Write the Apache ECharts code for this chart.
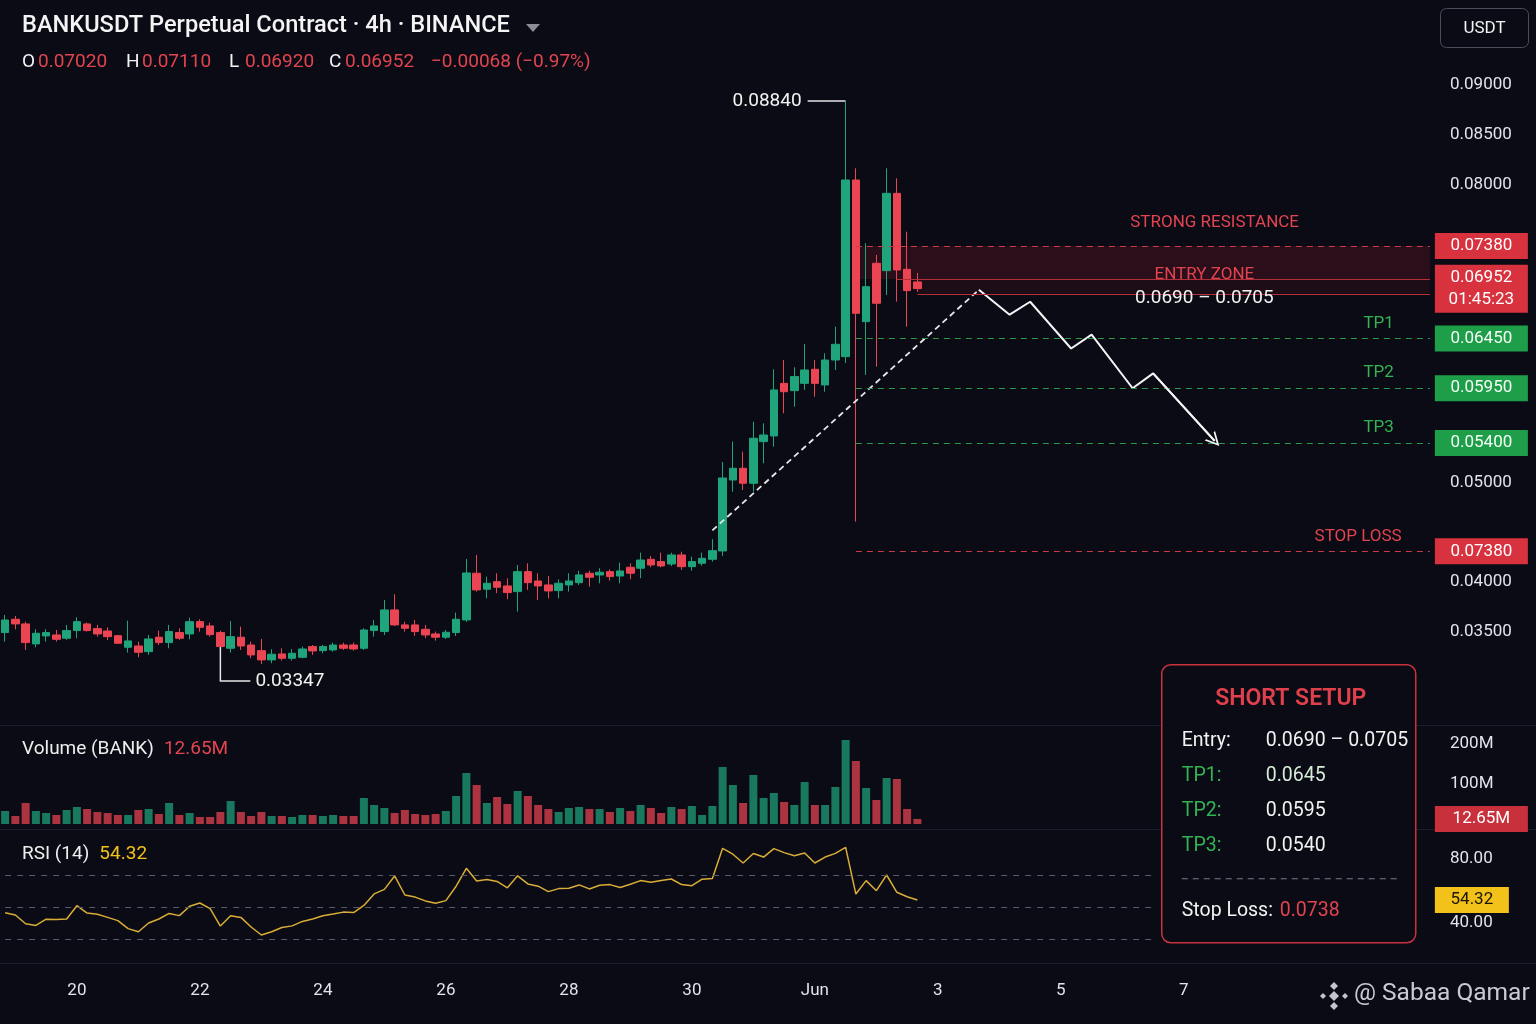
<!DOCTYPE html>
<html>
<head>
<meta charset="utf-8">
<title>BANKUSDT 4h</title>
<script src="https://cdn.jsdelivr.net/npm/echarts@6.0.0/dist/echarts.min.js"></script>
<style>
  html, body { margin: 0; padding: 0; background: #0a0b14; }
  #chart { width: 1536px; height: 1024px; }
</style>
</head>
<body>
<div id="chart"></div>
<script>
// ---------- data ----------
var symbolTitle = 'BANKUSDT Perpetual Contract \u00b7 4h \u00b7 BINANCE';
var quoteCurrency = 'USDT';
var startTime = Date.UTC(2025, 4, 18, 20);   // first 4h candle
var slotCount = 140;                          // candles + empty future slots
var dayTicks = ['20', '22', '24', '26', '28', '30', 'Jun', '3', '5', '7'];

var openPrices = [
  0.03492, 0.03626, 0.03579, 0.03378, 0.03458, 0.03468, 0.03435, 0.03512, 0.03579, 0.03532,
  0.03508, 0.03461, 0.03344, 0.03357, 0.03300, 0.03445, 0.03391, 0.03492, 0.03478, 0.03602,
  0.03559, 0.03492, 0.03334, 0.03445, 0.03367, 0.03310, 0.03217, 0.03277, 0.03233, 0.03243,
  0.03351, 0.03310, 0.03317, 0.03367, 0.03367, 0.03334, 0.03512, 0.03502, 0.03720, 0.03569,
  0.03569, 0.03525, 0.03478, 0.03445, 0.03492, 0.03619, 0.04089, 0.03928, 0.04004, 0.03961,
  0.03904, 0.04105, 0.04011, 0.03971, 0.03914, 0.03971, 0.03994, 0.04089, 0.04071, 0.04105,
  0.04061, 0.04149, 0.04139, 0.04229, 0.04206, 0.04182, 0.04273, 0.04155, 0.04189, 0.04229,
  0.04313, 0.05027, 0.05145, 0.04994, 0.05413, 0.05470, 0.05999, 0.05926, 0.05999, 0.06141,
  0.05983, 0.06234, 0.06268, 0.08045, 0.06620, 0.07207, 0.07133, 0.07911, 0.07147, 0.07020
];
var closePrices = [
  0.03619, 0.03579, 0.03391, 0.03485, 0.03492, 0.03424, 0.03512, 0.03602, 0.03512, 0.03478,
  0.03451, 0.03384, 0.03408, 0.03294, 0.03428, 0.03391, 0.03502, 0.03435, 0.03602, 0.03545,
  0.03471, 0.03351, 0.03451, 0.03357, 0.03267, 0.03217, 0.03274, 0.03233, 0.03284, 0.03327,
  0.03307, 0.03351, 0.03367, 0.03334, 0.03327, 0.03518, 0.03559, 0.03720, 0.03569, 0.03535,
  0.03502, 0.03468, 0.03445, 0.03495, 0.03626, 0.04092, 0.03921, 0.03988, 0.03948, 0.03894,
  0.04105, 0.03994, 0.03961, 0.03911, 0.03988, 0.04011, 0.04072, 0.04048, 0.04099, 0.04055,
  0.04112, 0.04089, 0.04222, 0.04172, 0.04162, 0.04273, 0.04155, 0.04206, 0.04239, 0.04316,
  0.05047, 0.05145, 0.04994, 0.05447, 0.05480, 0.05933, 0.05915, 0.06067, 0.06134, 0.05999,
  0.06234, 0.06392, 0.08045, 0.06704, 0.06972, 0.06805, 0.07911, 0.07140, 0.06932, 0.06952
];
var lowPrices = [
  0.03401, 0.03525, 0.03317, 0.03344, 0.03401, 0.03401, 0.03418, 0.03435, 0.03502, 0.03451,
  0.03418, 0.03378, 0.03290, 0.03243, 0.03267, 0.03367, 0.03334, 0.03418, 0.03424, 0.03502,
  0.03451, 0.03347, 0.03290, 0.03317, 0.03233, 0.03176, 0.03183, 0.03210, 0.03210, 0.03233,
  0.03267, 0.03284, 0.03300, 0.03317, 0.03310, 0.03317, 0.03451, 0.03468, 0.03559, 0.03502,
  0.03458, 0.03435, 0.03411, 0.03428, 0.03458, 0.03599, 0.03904, 0.03837, 0.03889, 0.03827,
  0.03702, 0.03921, 0.03820, 0.03837, 0.03837, 0.03904, 0.03971, 0.03954, 0.03988, 0.04014,
  0.03988, 0.04028, 0.04038, 0.04149, 0.04149, 0.04162, 0.04122, 0.04115, 0.04165, 0.04206,
  0.04263, 0.04909, 0.04926, 0.04909, 0.05195, 0.05362, 0.05698, 0.05765, 0.05933, 0.05865,
  0.05915, 0.06134, 0.06204, 0.04608, 0.06084, 0.06167, 0.06888, 0.06821, 0.06570, 0.06920
];
var highPrices = [
  0.03669, 0.03659, 0.03602, 0.03525, 0.03525, 0.03518, 0.03569, 0.03646, 0.03592, 0.03569,
  0.03545, 0.03468, 0.03612, 0.03401, 0.03468, 0.03512, 0.03569, 0.03535, 0.03642, 0.03626,
  0.03592, 0.03512, 0.03609, 0.03552, 0.03401, 0.03428, 0.03324, 0.03334, 0.03327, 0.03351,
  0.03367, 0.03367, 0.03391, 0.03391, 0.03391, 0.03535, 0.03619, 0.03820, 0.03877, 0.03602,
  0.03619, 0.03569, 0.03502, 0.03518, 0.03693, 0.04232, 0.04273, 0.04054, 0.04089, 0.04038,
  0.04172, 0.04189, 0.04089, 0.04061, 0.04028, 0.04089, 0.04115, 0.04115, 0.04139, 0.04129,
  0.04196, 0.04189, 0.04296, 0.04263, 0.04296, 0.04296, 0.04306, 0.04256, 0.04296, 0.04431,
  0.05208, 0.05413, 0.05312, 0.05614, 0.05597, 0.06141, 0.06234, 0.06161, 0.06395, 0.06233,
  0.06302, 0.06569, 0.08840, 0.08163, 0.07408, 0.07291, 0.08163, 0.08062, 0.07525, 0.07110
];
// volume in millions of BANK
var volumeMillions = [
  32.5, 20, 52.5, 32.5, 27.5, 22.5, 35, 42.5, 37.5, 30,
  27.5, 22.5, 22.5, 35, 37.5, 25, 52.5, 22.5, 27.5, 17.5,
  17.5, 30, 57.5, 30, 20, 30, 20, 20, 17.5, 22.5,
  22.5, 20, 22.5, 20, 20, 65, 47.5, 40, 27.5, 35,
  25, 22.5, 25, 32.5, 70, 127.5, 97.5, 52.5, 67.5, 50,
  82.5, 70, 47.5, 37.5, 30, 40, 42.5, 37.5, 37.5, 30,
  40, 32.5, 47.5, 40, 27.5, 42.5, 37.5, 45, 22.5, 45,
  142.5, 97.5, 52.5, 122.5, 65, 77.5, 55, 47.5, 105, 47.5,
  47.5, 92.5, 210, 157.5, 90, 60, 115, 112.5, 37.5, 12.65
];
var rsiValues = [
  46.4, 45, 39.5, 38.5, 42.4, 42.2, 42.5, 50.8, 46.2, 45.5,
  43.5, 41.5, 36.5, 34.5, 40, 42.5, 46, 44.6, 50.5, 52.5,
  49, 38.1, 44.5, 43.5, 37.5, 32.5, 34.5, 37.2, 38.2, 41,
  42.5, 44.5, 45.6, 46.8, 46.5, 51, 58.2, 61, 69.4, 57.5,
  56.2, 53.8, 52.3, 54, 63, 74.2, 66.3, 67.2, 66, 62,
  69.5, 64.4, 63, 59.6, 61.5, 61.7, 63.8, 61.3, 63.6, 64,
  62.2, 64.2, 66.5, 65.4, 66.5, 67.5, 64, 63.3, 67.4, 67.8,
  86.7, 83, 77.5, 83.4, 81.2, 86.5, 84, 82, 83.8, 77.5,
  81.2, 83.5, 87.3, 58.1, 66.5, 60.2, 70, 59.2, 56.4, 54.32
];
var rsiBands = [70, 50, 30];

// trade setup
var resistanceLevel = 0.0738;
var entryZone = [0.0690, 0.0705];
var takeProfits = [0.0645, 0.0595, 0.0540];
var stopLoss = 0.0738;
var stopLossDrawnAt = 0.0431;    // where the stop-loss line sits on the picture
var countdown = '01:45:23';
var trendLine = [[69, 0.0452], [95, 0.0694]];
var projectionPath = [[95, 0.0694], [98, 0.0669], [100, 0.0682], [104, 0.0635],
  [106, 0.0649], [110, 0.0595], [112, 0.0610], [118, 0.0542]];
var annotations = [{ index: 82, kind: 'high' }, { index: 21, kind: 'low' }];

// axis ticks
var priceTicks = [0.035, 0.040, 0.045, 0.050, 0.055, 0.060, 0.065, 0.070, 0.075, 0.080, 0.085, 0.090, 0.095];
var volumeTicks = [100, 200];
var rsiTicks = [40, 80];

// ---------- styling ----------
var font = 'Roboto, "Noto Sans", sans-serif';
var bg = '#0a0b14';
var upColor = '#1fa47b', downColor = '#eb4452';
var tagRed = '#d8323f', tagGreen = '#1f9e4a';
var lineRed = '#c93b47', lineGreen = '#2c9a4b';
var textRed = '#e24450', textGreen = '#33b453';
var axisText = '#e2e4e9';

var priceMin = 0.02562, priceMax = 0.09856;
var lastSlot = slotCount - 1;
var boxLeftSlot = 112;          // pane lines stop where the setup box begins
var boxRect = { x: 1161, y: 664, w: 254, h: 278 };

var candles = openPrices.map(function (o, i) {
  return [o, closePrices[i], lowPrices[i], highPrices[i]];
});
var li = candles.length - 1;
var lastOpen = openPrices[li], lastClose = closePrices[li];
var change = lastClose - lastOpen;
function signed(v, d) { return (v < 0 ? '\u2212' : '+') + Math.abs(v).toFixed(d); }

var slotTimes = [];
for (var i = 0; i < slotCount; i++) slotTimes.push(startTime + i * 4 * 3600 * 1000);
var categories = slotTimes.map(function (t) {
  return new Date(t).toISOString().slice(0, 16).replace('T', ' ');
});
var monthNames = ['Jan', 'Feb', 'Mar', 'Apr', 'May', 'Jun', 'Jul', 'Aug', 'Sep', 'Oct', 'Nov', 'Dec'];
function dayLabel(i) {
  var d = new Date(slotTimes[i]);
  if (d.getUTCHours() !== 0) return '';
  var s = d.getUTCDate() === 1 ? monthNames[d.getUTCMonth()] : String(d.getUTCDate());
  return dayTicks.indexOf(s) >= 0 ? s : '';
}

function timeAxis(gridIndex, showLabels) {
  return {
    type: 'category', gridIndex: gridIndex, data: categories, boundaryGap: true,
    axisLine: { show: false }, axisTick: { show: false }, splitLine: { show: false },
    axisLabel: {
      show: showLabels,
      interval: function (idx) { return dayLabel(idx) !== ''; },
      formatter: function (v, idx) { return dayLabel(idx); },
      color: axisText, fontSize: 17, fontFamily: font, margin: 19
    }
  };
}

function valueAxis(gridIndex, min, max, ticks, fmt) {
  return {
    type: 'value', gridIndex: gridIndex, position: 'right', min: min, max: max,
    axisLine: { show: false }, axisTick: { show: false }, splitLine: { show: false },
    axisLabel: { customValues: ticks, formatter: fmt, color: axisText, fontSize: 17, fontFamily: font, margin: 15 }
  };
}

function priceTag(at, text, fill, color, w, h) {
  return {
    coord: [lastSlot, at], symbol: 'rect', symbolSize: [w, h], symbolOffset: [w / 2 + 5, 0],
    itemStyle: { color: fill },
    label: { show: true, position: 'inside', formatter: text, color: color, fontSize: 17, fontFamily: font, lineHeight: 22 }
  };
}

function textMark(slot, at, text, color, dist) {
  return {
    coord: [slot, at], symbol: 'rect', symbolSize: 1, itemStyle: { color: 'rgba(0,0,0,0)' },
    label: { show: true, position: 'top', distance: dist, formatter: text, color: color, fontSize: 17, fontFamily: font }
  };
}

function level(startSlot, at, color, type) {
  return [{ coord: [startSlot, at], lineStyle: { color: color, type: type, width: 1.2 } }, { coord: [lastSlot, at] }];
}

var entryText = entryZone.map(function (v) { return v.toFixed(4); }).join(' \u2013 ');

var tagList = [
  { at: resistanceLevel, h: 26, item: priceTag(resistanceLevel, resistanceLevel.toFixed(5), tagRed, '#fff', 93, 26) },
  { at: lastClose, h: 48, item: priceTag(lastClose, lastClose.toFixed(5) + '\n' + countdown, tagRed, '#fff', 93, 48) },
  { at: stopLossDrawnAt, h: 26, item: priceTag(stopLossDrawnAt, stopLoss.toFixed(5), tagRed, '#fff', 93, 26) }
];
takeProfits.forEach(function (tp) {
  tagList.push({ at: tp, h: 26, item: priceTag(tp, tp.toFixed(5), tagGreen, '#f4fff6', 93, 26) });
});

var levelLines = [
  level(83, resistanceLevel, lineRed, [6, 5]),
  level(87, entryZone[1], '#b52f3b', 'solid'),
  level(89, entryZone[0], '#b52f3b', 'solid'),
  level(83, stopLossDrawnAt, lineRed, [6, 5])
];
takeProfits.forEach(function (tp) { levelLines.push(level(83, tp, lineGreen, [6, 5])); });

var textMarks = [
  textMark(118, resistanceLevel, 'STRONG RESISTANCE', textRed, 14),
  textMark(132, stopLossDrawnAt, 'STOP LOSS', textRed, 6),
  {
    coord: [117, (entryZone[0] + entryZone[1]) / 2], symbol: 'rect', symbolSize: 1, itemStyle: { color: 'rgba(0,0,0,0)' },
    label: {
      show: true, position: 'inside', formatter: '{a|ENTRY ZONE}\n{b|' + entryText + '}',
      rich: {
        a: { color: textRed, fontSize: 17, fontFamily: font, lineHeight: 24 },
        b: { color: '#f2f2f2', fontSize: 19, fontFamily: font, lineHeight: 24 }
      }
    }
  }
];
takeProfits.forEach(function (tp, k) { textMarks.push(textMark(134, tp, 'TP' + (k + 1), textGreen, 6)); });

var arrowHead = 'path://M5,0 L10,10 L8.6,10 L5,2.8 L1.4,10 L0,10 Z';
var np = projectionPath.length;

var option = {
  backgroundColor: bg,
  animation: false,
  grid: [
    { left: 0, right: 101, top: 0, height: 725 },
    { left: 0, right: 101, top: 728, height: 96 },
    { left: 0, right: 101, top: 835, height: 128 }
  ],
  xAxis: [timeAxis(0, false), timeAxis(1, false), timeAxis(2, true)],
  yAxis: [
    valueAxis(0, priceMin, priceMax, priceTicks, function (v) { return v.toFixed(5); }),
    valueAxis(1, 0, 240, volumeTicks, function (v) { return v + 'M'; }),
    valueAxis(2, 15, 95, rsiTicks, function (v) { return v.toFixed(2); })
  ],
  series: [
    {
      type: 'candlestick', xAxisIndex: 0, yAxisIndex: 0, barWidth: 8, data: candles,
      itemStyle: { color: upColor, color0: downColor, borderColor: upColor, borderColor0: downColor, borderWidth: 1 },
      markArea: {
        silent: true,
        data: [
          [{ coord: [83, resistanceLevel], itemStyle: { color: 'rgba(160,28,48,0.22)' } }, { coord: [lastSlot, entryZone[1]] }],
          [{ coord: [89, entryZone[1]], itemStyle: { color: 'rgba(160,28,48,0.13)' } }, { coord: [lastSlot, entryZone[0]] }]
        ]
      },
      markLine: { silent: true, symbol: ['none', 'none'], label: { show: false }, data: levelLines },
      markPoint: { silent: true, data: textMarks.concat(tagList.map(function (t) { return t.item; })) }
    },
    {
      type: 'line', xAxisIndex: 0, yAxisIndex: 0, data: trendLine, symbol: 'none', silent: true,
      lineStyle: { color: '#e8e8e8', width: 1.8, type: [6, 4] }
    },
    {
      type: 'line', xAxisIndex: 0, yAxisIndex: 0, data: projectionPath, symbol: 'none', silent: true,
      lineStyle: { color: '#f5f5f5', width: 2 },
      markLine: {
        silent: true, symbol: ['none', arrowHead], symbolSize: 14, label: { show: false },
        lineStyle: { color: '#f5f5f5', width: 2, type: 'solid' },
        data: [[{ coord: projectionPath[np - 2] }, { coord: projectionPath[np - 1] }]]
      }
    },
    {
      type: 'custom', xAxisIndex: 0, yAxisIndex: 0, clip: false, silent: true,
      data: annotations.map(function (a) {
        return [a.index, a.kind === 'high' ? highPrices[a.index] : lowPrices[a.index], a.kind === 'high' ? 0 : 1];
      }),
      renderItem: function (params, api) {
        var p = api.coord([api.value(0), api.value(1)]);
        var text = api.value(1).toFixed(5);
        var ls = { stroke: '#e6e6e6', lineWidth: 1.5, fill: null };
        var ts = { fill: '#f2f2f2', fontSize: 19, fontFamily: font, textVerticalAlign: 'middle' };
        if (api.value(2) === 0) {
          return { type: 'group', children: [
            { type: 'polyline', shape: { points: [[p[0], p[1]], [p[0] - 38, p[1]]] }, style: ls },
            { type: 'text', style: Object.assign({ x: p[0] - 44, y: p[1], text: text, textAlign: 'right' }, ts) }
          ] };
        }
        return { type: 'group', children: [
          { type: 'polyline', shape: { points: [[p[0], p[1]], [p[0], p[1] + 34], [p[0] + 30, p[1] + 34]] }, style: ls },
          { type: 'text', style: Object.assign({ x: p[0] + 35, y: p[1] + 34, text: text, textAlign: 'left' }, ts) }
        ] };
      }
    },
    {
      type: 'bar', xAxisIndex: 1, yAxisIndex: 1, barWidth: 8, silent: true,
      data: volumeMillions.map(function (v, k) {
        return { value: v, itemStyle: { color: closePrices[k] >= openPrices[k] ? 'rgba(31,164,123,0.72)' : 'rgba(235,68,82,0.72)' } };
      }),
      markPoint: { silent: true, data: [priceTag(volumeMillions[li], volumeMillions[li].toFixed(2) + 'M', '#c8303c', '#fff', 93, 26)] }
    },
    {
      type: 'line', xAxisIndex: 2, yAxisIndex: 2, data: rsiValues, symbol: 'none', silent: true,
      lineStyle: { color: '#d9ad37', width: 1.5 },
      markLine: {
        silent: true, symbol: ['none', 'none'], label: { show: false },
        lineStyle: { color: '#565a66', type: [6, 6], width: 1 },
        data: rsiBands.map(function (b) { return [{ coord: [0, b] }, { coord: [boxLeftSlot, b] }]; })
      },
      markPoint: { silent: true, data: [priceTag(rsiValues[li], rsiValues[li].toFixed(2), '#f2c21b', '#1a1400', 74, 26)] }
    }
  ],
  graphic: { elements: [] }
};

// ---------- chrome: header, legends, separators, setup box, watermark ----------
var g = option.graphic.elements;
g.push({ type: 'text', left: 22, top: 14, style: { text: symbolTitle, fill: '#f4f4f4', fontSize: 23.6, fontWeight: 500, fontFamily: font } });
g.push({ type: 'polygon', shape: { points: [[526, 24], [540, 24], [533, 32]] }, style: { fill: '#8a8d96' } });

var ohlc = [
  { key: 'O', value: lastOpen.toFixed(5), x: 22 },
  { key: 'H', value: highPrices[li].toFixed(5), x: 126 },
  { key: 'L', value: lowPrices[li].toFixed(5), x: 229 },
  { key: 'C', value: lastClose.toFixed(5), x: 329 }
];
ohlc.forEach(function (o) {
  g.push({ type: 'text', left: o.x, top: 53, style: { text: o.key, fill: '#f2f2f2', fontSize: 19, fontFamily: font } });
  g.push({ type: 'text', left: o.x + 16, top: 53, style: { text: o.value, fill: textRed, fontSize: 19, fontFamily: font } });
});
g.push({ type: 'text', left: 431, top: 53, style: {
  text: signed(change, 5) + ' (' + signed(change / lastOpen * 100, 2) + '%)', fill: textRed, fontSize: 19, fontFamily: font } });

g.push({
  type: 'group', left: 1440, top: 8, children: [
    { type: 'rect', shape: { x: 0, y: 0, width: 88, height: 39, r: 6 }, style: { fill: bg, stroke: '#4a4d57', lineWidth: 1 } },
    { type: 'text', style: { x: 44, y: 20, text: quoteCurrency, fill: '#f2f2f2', fontSize: 17, fontFamily: font, textAlign: 'center', textVerticalAlign: 'middle' } }
  ]
});
g.push({
  type: 'text', left: 22, top: 740,
  style: { text: '{w|Volume (BANK)}   {r|' + volumeMillions[li].toFixed(2) + 'M}', rich: {
    w: { fill: '#eeeeee', fontSize: 19, fontFamily: font }, r: { fill: textRed, fontSize: 19, fontFamily: font } } }
});
g.push({
  type: 'text', left: 22, top: 845,
  style: { text: '{w|RSI (14)}   {y|' + rsiValues[li].toFixed(2) + '}', rich: {
    w: { fill: '#eeeeee', fontSize: 19, fontFamily: font }, y: { fill: '#f2c21b', fontSize: 19, fontFamily: font } } }
});
// pane separators, broken where the setup box covers them
[725.5, 829.5, 963.5].forEach(function (y) {
  var covered = y > boxRect.y && y < boxRect.y + boxRect.h;
  var spans = covered ? [[0, boxRect.x], [boxRect.x + boxRect.w, 1536]] : [[0, 1536]];
  spans.forEach(function (s) {
    g.push({ type: 'line', shape: { x1: s[0], y1: y, x2: s[1], y2: y }, style: { stroke: '#1c1f2b', lineWidth: 1 } });
  });
});

var rows = [
  { label: 'Entry:', value: entryText, color: '#f2f2f2', valueColor: '#f2f2f2', y: 76 },
  { label: 'TP1:', value: takeProfits[0].toFixed(4), color: textGreen, valueColor: '#d6ecd9', y: 111 },
  { label: 'TP2:', value: takeProfits[1].toFixed(4), color: textGreen, valueColor: '#f2f2f2', y: 146 },
  { label: 'TP3:', value: takeProfits[2].toFixed(4), color: textGreen, valueColor: '#f2f2f2', y: 181 }
];
var box = [
  { type: 'rect', shape: { x: 0, y: 0, width: boxRect.w, height: boxRect.h, r: 9 }, style: { fill: bg, stroke: '#c8323f', lineWidth: 1.5 } },
  { type: 'text', style: { x: 129, y: 34, text: 'SHORT SETUP', fill: '#e0404c', fontSize: 23, fontWeight: 600, fontFamily: font, textAlign: 'center', textVerticalAlign: 'middle' } },
  { type: 'line', shape: { x1: 20, y1: 214, x2: 237, y2: 214 }, style: { stroke: '#7a7d88', lineWidth: 1, lineDash: [6, 5] } },
  { type: 'text', style: { x: 20, y: 246, text: 'Stop Loss:', fill: '#f2f2f2', fontSize: 19.5, fontFamily: font, textVerticalAlign: 'middle' } },
  { type: 'text', style: { x: 118, y: 246, text: stopLoss.toFixed(4), fill: textRed, fontSize: 19.5, fontFamily: font, textVerticalAlign: 'middle' } }
];
rows.forEach(function (r) {
  box.push({ type: 'text', style: { x: 20, y: r.y, text: r.label, fill: r.color, fontSize: 19.5, fontFamily: font, textVerticalAlign: 'middle' } });
  box.push({ type: 'text', style: { x: 104, y: r.y, text: r.value, fill: r.valueColor, fontSize: 19.5, fontFamily: font, textVerticalAlign: 'middle' } });
});
g.push({ type: 'group', left: boxRect.x, top: boxRect.y, children: box });

// watermark: small exchange logo + author
var logo = [];
[[0, 0, 5], [0, -10, 4], [0, 10, 4], [-11, 0, 3], [11, 0, 3]].forEach(function (d) {
  logo.push({ type: 'polygon', shape: { points: [[d[0], d[1] - d[2]], [d[0] + d[2], d[1]], [d[0], d[1] + d[2]], [d[0] - d[2], d[1]]] }, style: { fill: '#c2c5cc' } });
});
g.push({ type: 'group', x: 1334, y: 996, children: logo });
g.push({ type: 'text', left: 1354, top: 981, style: { text: '@ Sabaa Qamar', fill: '#c9cbd1', fontSize: 24.5, fontFamily: font } });

var chart = echarts.init(document.getElementById('chart'));
chart.setOption(option);

// hide price tick labels that sit under a price tag or the currency box
var blocks = tagList.map(function (t) {
  var y = chart.convertToPixel({ yAxisIndex: 0 }, t.at);
  return [y - t.h / 2, y + t.h / 2];
});
blocks.push([8, 47]);
var shownTicks = priceTicks.filter(function (v) {
  var y = chart.convertToPixel({ yAxisIndex: 0 }, v);
  return blocks.every(function (b) { return y + 9 < b[0] || y - 9 > b[1]; });
});
chart.setOption({ yAxis: [{ axisLabel: { customValues: shownTicks } }] });
</script>
</body>
</html>
